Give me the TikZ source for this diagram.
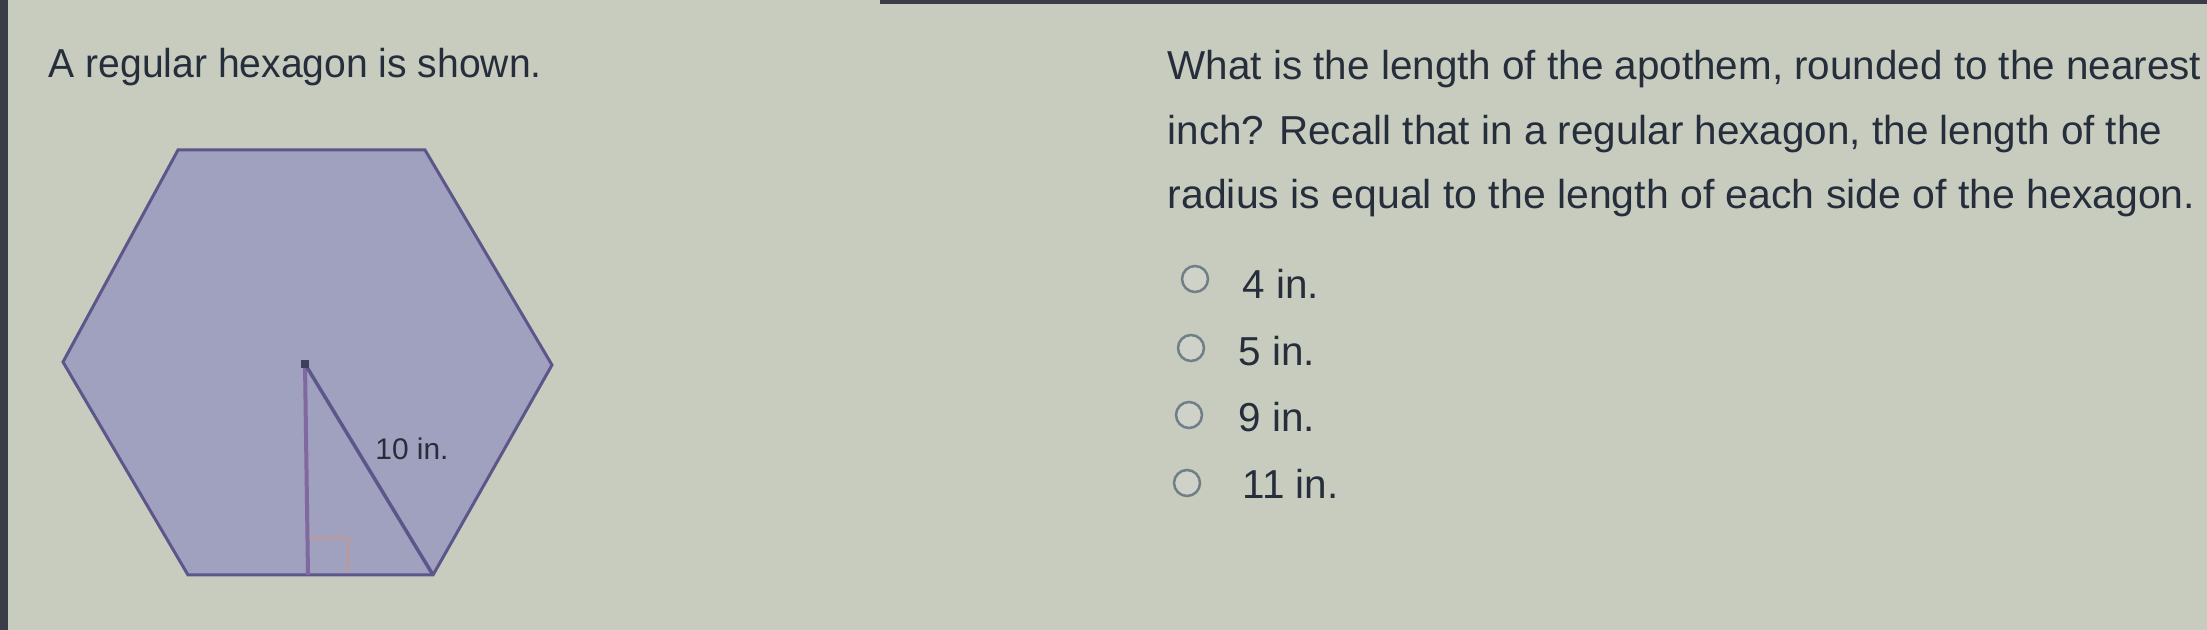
\documentclass[tikz,border=0pt]{standalone}
\usepackage{fontspec}
\setmainfont{Liberation Sans}
\definecolor{bgc}{RGB}{199,204,191}
\definecolor{hexfill}{RGB}{160,161,190}
\definecolor{hexline}{RGB}{92,86,138}
\definecolor{apoline}{RGB}{128,104,160}
\definecolor{txt}{RGB}{38,46,60}
\definecolor{radio}{RGB}{112,126,136}
\definecolor{radiofill}{RGB}{206,210,200}
\definecolor{rightang}{RGB}{196,150,140}
\definecolor{edge}{RGB}{58,60,72}
\tikzset{
  qtext/.style={anchor=base west, inner sep=0pt, text=txt, font=\fontsize{11.5}{14}\selectfont},
  opttext/.style={anchor=base west, inner sep=0pt, text=txt, font=\fontsize{11.5}{14}\selectfont},
  radiobtn/.style={circle, draw=radio, fill=radiofill, line width=0.25mm, minimum size=2.6mm, inner sep=0pt},
  figlabel/.style={inner sep=0pt, text=txt, font=\fontsize{8.5}{10}\selectfont},
}
\begin{document}
\begin{tikzpicture}[x=0.1mm, y=-0.1mm]
\fill[bgc] (0,0) rectangle (2207,630);
\useasboundingbox (0,0) rectangle (2207,630);
% screen edges
\fill[edge] (0,0) rectangle (8,630);
\fill[edge] (880,0) rectangle (2207,4);

% hexagon
\coordinate (TL) at (178,150);
\coordinate (TR) at (425,150);
\coordinate (R) at (552,365);
\coordinate (BR) at (433,575);
\coordinate (BL) at (188,575);
\coordinate (L) at (63,362);
\filldraw[fill=hexfill, draw=hexline, line width=0.3mm, line join=miter]
  (TL) -- (TR) -- (R) -- (BR) -- (BL) -- (L) -- cycle;

\coordinate (C) at (305,364);
\coordinate (F) at (308,575);
\draw[rightang, line width=0.2mm] (310,538) -- (348,538) -- (348,573);
\draw[apoline, line width=0.4mm] (C) -- (F);
\draw[hexline, line width=0.35mm] (C) -- (BR);
\fill[hexline!70!black] (301,360) rectangle (309,368);
\node[figlabel] (lab) at (412,449) {10 in.};

% texts
\node[qtext] (t0) at (48,78) {\scalebox{0.967}[1]{A regular hexagon is shown.}};
\node[qtext] (q1) at (1167,80) {What is the length of the apothem, rounded to the nearest};
\node[qtext] (q2) at (1167,145) {inch? Recall that in a regular hexagon, the length of the};
\node[qtext] (q3) at (1167,209) {\scalebox{1.014}[1]{radius is equal to the length of each side of the hexagon.}};

% options
\node[radiobtn] (r1) at (1195,279) {};
\node[radiobtn] (r2) at (1191,348) {};
\node[radiobtn] (r3) at (1189,415) {};
\node[radiobtn] (r4) at (1187,483) {};
\node[opttext] (o1) at (1242,299) {4 in.};
\node[opttext] (o2) at (1238,366) {5 in.};
\node[opttext] (o3) at (1238,432) {9 in.};
\node[opttext] (o4) at (1242,499) {11 in.};
\end{tikzpicture}
\end{document}
